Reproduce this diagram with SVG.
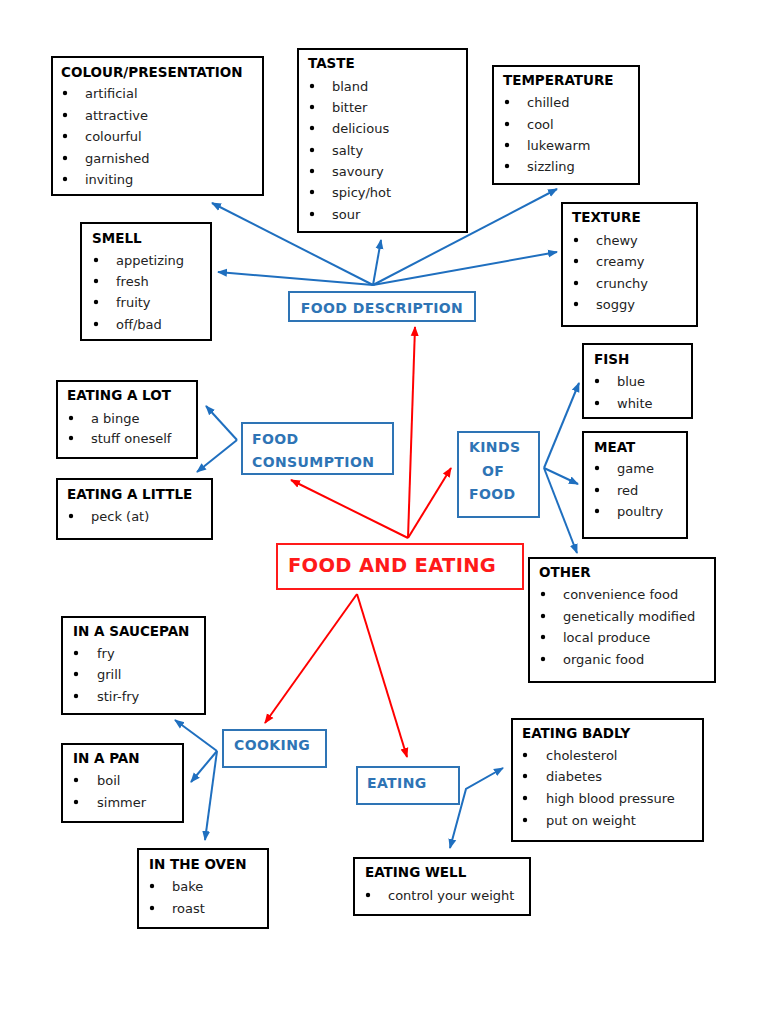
<svg xmlns="http://www.w3.org/2000/svg" width="768" height="1024" viewBox="0 0 768 1024">
<style>
.box{fill:#fff;stroke:#000;stroke-width:2}
.bbox{fill:#fff;stroke:#2e74b5;stroke-width:2}
.rbox{fill:#fff;stroke:#ff1a1a;stroke-width:2}
.t{font-family:"DejaVu Sans","Noto Sans",sans-serif;font-size:13.5px;font-weight:bold;fill:#000}
.i{font-family:"DejaVu Sans","Noto Sans",sans-serif;font-size:13px;fill:#222}
.bl{font-family:"DejaVu Sans","Noto Sans",sans-serif;font-size:14px;font-weight:bold;fill:#2e74b5;letter-spacing:0.4px}
.rl{font-family:"DejaVu Sans","Noto Sans",sans-serif;font-size:19.5px;font-weight:bold;fill:#ff1a1a;letter-spacing:0.3px}
.b{fill:#000}
.ba{fill:none;stroke:#1f6fbf;stroke-width:2}
.ra{fill:none;stroke:#ff0000;stroke-width:2}
</style>
<defs>
<marker id="ab" markerUnits="userSpaceOnUse" markerWidth="10" markerHeight="10" viewBox="0 0 10 10" refX="9" refY="5" orient="auto-start-reverse"><path d="M0,1 L10,5 L0,9 Z" fill="#1f6fbf"/></marker>
<marker id="ar" markerUnits="userSpaceOnUse" markerWidth="10" markerHeight="10" viewBox="0 0 10 10" refX="9" refY="5" orient="auto"><path d="M0,1 L10,5 L0,9 Z" fill="#ff0000"/></marker>
</defs>
<rect width="768" height="1024" fill="#fff"/>

<g id="connectors">
<path class="ba" marker-end="url(#ab)" d="M373,285 L212,203"/>
<path class="ba" marker-end="url(#ab)" d="M373,285 L218,272"/>
<path class="ba" marker-end="url(#ab)" d="M373,285 L381,240"/>
<path class="ba" marker-end="url(#ab)" d="M373,285 L557,189"/>
<path class="ba" marker-end="url(#ab)" d="M373,285 L557,252"/>
<path class="ra" marker-end="url(#ar)" d="M408,538 L415,327"/>
<path class="ra" marker-end="url(#ar)" d="M408,538 L291,480"/>
<path class="ra" marker-end="url(#ar)" d="M408,538 L451,468"/>
<path class="ba" marker-end="url(#ab)" d="M237,440 L206,406"/>
<path class="ba" marker-end="url(#ab)" d="M237,440 L197,472"/>
<path class="ba" marker-end="url(#ab)" d="M544,468 L579,383"/>
<path class="ba" marker-end="url(#ab)" d="M544,468 L578,484"/>
<path class="ba" marker-end="url(#ab)" d="M544,468 L577,553"/>
<path class="ra" marker-end="url(#ar)" d="M357,594 L265,723"/>
<path class="ra" marker-end="url(#ar)" d="M357,594 L407,757"/>
<path class="ba" marker-end="url(#ab)" d="M217,751 L175,720"/>
<path class="ba" marker-end="url(#ab)" d="M217,751 L191,782"/>
<path class="ba" marker-end="url(#ab)" d="M217,751 L205,840"/>
<path class="ba" marker-start="url(#ab)" marker-end="url(#ab)" d="M503,768 L466,789 L450,848"/>
</g>

<g id="colour">
<rect class="box" x="52" y="57" width="211" height="138"/>
<text class="t" x="61" y="77">COLOUR/PRESENTATION</text>
<circle class="b" cx="65" cy="93" r="2.2"/><text class="i" x="85" y="98">artificial</text>
<circle class="b" cx="65" cy="115" r="2.2"/><text class="i" x="85" y="120">attractive</text>
<circle class="b" cx="65" cy="136" r="2.2"/><text class="i" x="85" y="141">colourful</text>
<circle class="b" cx="65" cy="158" r="2.2"/><text class="i" x="85" y="163">garnished</text>
<circle class="b" cx="65" cy="179" r="2.2"/><text class="i" x="85" y="184">inviting</text>
</g>

<g id="taste">
<rect class="box" x="298" y="49" width="169" height="183"/>
<text class="t" x="308" y="68">TASTE</text>
<circle class="b" cx="312" cy="86" r="2.2"/><text class="i" x="332" y="91">bland</text>
<circle class="b" cx="312" cy="107" r="2.2"/><text class="i" x="332" y="112">bitter</text>
<circle class="b" cx="312" cy="128" r="2.2"/><text class="i" x="332" y="133">delicious</text>
<circle class="b" cx="312" cy="150" r="2.2"/><text class="i" x="332" y="155">salty</text>
<circle class="b" cx="312" cy="171" r="2.2"/><text class="i" x="332" y="176">savoury</text>
<circle class="b" cx="312" cy="192" r="2.2"/><text class="i" x="332" y="197">spicy/hot</text>
<circle class="b" cx="312" cy="214" r="2.2"/><text class="i" x="332" y="219">sour</text>
</g>

<g id="temperature">
<rect class="box" x="493" y="66" width="146" height="118"/>
<text class="t" x="503" y="85">TEMPERATURE</text>
<circle class="b" cx="507" cy="102" r="2.2"/><text class="i" x="527" y="107">chilled</text>
<circle class="b" cx="507" cy="124" r="2.2"/><text class="i" x="527" y="129">cool</text>
<circle class="b" cx="507" cy="145" r="2.2"/><text class="i" x="527" y="150">lukewarm</text>
<circle class="b" cx="507" cy="166" r="2.2"/><text class="i" x="527" y="171">sizzling</text>
</g>

<g id="smell">
<rect class="box" x="81" y="223" width="130" height="117"/>
<text class="t" x="92" y="243">SMELL</text>
<circle class="b" cx="96" cy="260" r="2.2"/><text class="i" x="116" y="265">appetizing</text>
<circle class="b" cx="96" cy="281" r="2.2"/><text class="i" x="116" y="286">fresh</text>
<circle class="b" cx="96" cy="302" r="2.2"/><text class="i" x="116" y="307">fruity</text>
<circle class="b" cx="96" cy="324" r="2.2"/><text class="i" x="116" y="329">off/bad</text>
</g>

<g id="texture">
<rect class="box" x="562" y="203" width="135" height="123"/>
<text class="t" x="572" y="222">TEXTURE</text>
<circle class="b" cx="576" cy="240" r="2.2"/><text class="i" x="596" y="245">chewy</text>
<circle class="b" cx="576" cy="261" r="2.2"/><text class="i" x="596" y="266">creamy</text>
<circle class="b" cx="576" cy="283" r="2.2"/><text class="i" x="596" y="288">crunchy</text>
<circle class="b" cx="576" cy="304" r="2.2"/><text class="i" x="596" y="309">soggy</text>
</g>

<g id="food-description">
<rect class="bbox" x="289" y="292" width="186" height="29"/>
<text class="bl" x="382" y="313" text-anchor="middle">FOOD DESCRIPTION</text>
</g>

<g id="fish">
<rect class="box" x="583" y="344" width="109" height="74"/>
<text class="t" x="594" y="364">FISH</text>
<circle class="b" cx="597" cy="381" r="2.2"/><text class="i" x="617" y="386">blue</text>
<circle class="b" cx="597" cy="403" r="2.2"/><text class="i" x="617" y="408">white</text>
</g>

<g id="eating-a-lot">
<rect class="box" x="57" y="381" width="140" height="77"/>
<text class="t" x="67" y="400">EATING A LOT</text>
<circle class="b" cx="71" cy="418" r="2.2"/><text class="i" x="91" y="423">a binge</text>
<circle class="b" cx="71" cy="438" r="2.2"/><text class="i" x="91" y="443">stuff oneself</text>
</g>

<g id="food-consumption">
<rect class="bbox" x="242" y="423" width="151" height="51"/>
<text class="bl" x="252" y="444">FOOD</text>
<text class="bl" x="252" y="467">CONSUMPTION</text>
</g>

<g id="kinds-of-food">
<rect class="bbox" x="458" y="432" width="81" height="85"/>
<text class="bl" x="469" y="452">KINDS</text>
<text class="bl" x="482" y="476">OF</text>
<text class="bl" x="469" y="499">FOOD</text>
</g>

<g id="meat">
<rect class="box" x="583" y="432" width="104" height="106"/>
<text class="t" x="594" y="452">MEAT</text>
<circle class="b" cx="597" cy="468" r="2.2"/><text class="i" x="617" y="473">game</text>
<circle class="b" cx="597" cy="490" r="2.2"/><text class="i" x="617" y="495">red</text>
<circle class="b" cx="597" cy="511" r="2.2"/><text class="i" x="617" y="516">poultry</text>
</g>

<g id="eating-a-little">
<rect class="box" x="57" y="479" width="155" height="60"/>
<text class="t" x="67" y="499">EATING A LITTLE</text>
<circle class="b" cx="71" cy="516" r="2.2"/><text class="i" x="91" y="521">peck (at)</text>
</g>

<g id="food-and-eating">
<rect class="rbox" x="277" y="544" width="246" height="45"/>
<text class="rl" x="288" y="572">FOOD AND EATING</text>
</g>

<g id="other">
<rect class="box" x="529" y="558" width="186" height="124"/>
<text class="t" x="539" y="577">OTHER</text>
<circle class="b" cx="543" cy="594" r="2.2"/><text class="i" x="563" y="599">convenience food</text>
<circle class="b" cx="543" cy="616" r="2.2"/><text class="i" x="563" y="621">genetically modified</text>
<circle class="b" cx="543" cy="637" r="2.2"/><text class="i" x="563" y="642">local produce</text>
<circle class="b" cx="543" cy="659" r="2.2"/><text class="i" x="563" y="664">organic food</text>
</g>

<g id="in-a-saucepan">
<rect class="box" x="62" y="617" width="143" height="97"/>
<text class="t" x="73" y="636">IN A SAUCEPAN</text>
<circle class="b" cx="76" cy="653" r="2.2"/><text class="i" x="97" y="658">fry</text>
<circle class="b" cx="76" cy="674" r="2.2"/><text class="i" x="97" y="679">grill</text>
<circle class="b" cx="76" cy="696" r="2.2"/><text class="i" x="97" y="701">stir-fry</text>
</g>

<g id="cooking">
<rect class="bbox" x="223" y="730" width="103" height="37"/>
<text class="bl" x="234" y="750">COOKING</text>
</g>

<g id="in-a-pan">
<rect class="box" x="62" y="744" width="121" height="78"/>
<text class="t" x="73" y="763">IN A PAN</text>
<circle class="b" cx="76" cy="780" r="2.2"/><text class="i" x="97" y="785">boil</text>
<circle class="b" cx="76" cy="802" r="2.2"/><text class="i" x="97" y="807">simmer</text>
</g>

<g id="eating">
<rect class="bbox" x="357" y="767" width="102" height="37"/>
<text class="bl" x="367" y="788">EATING</text>
</g>

<g id="eating-badly">
<rect class="box" x="512" y="719" width="191" height="122"/>
<text class="t" x="522" y="738">EATING BADLY</text>
<circle class="b" cx="525" cy="755" r="2.2"/><text class="i" x="546" y="760">cholesterol</text>
<circle class="b" cx="525" cy="776" r="2.2"/><text class="i" x="546" y="781">diabetes</text>
<circle class="b" cx="525" cy="798" r="2.2"/><text class="i" x="546" y="803">high blood pressure</text>
<circle class="b" cx="525" cy="820" r="2.2"/><text class="i" x="546" y="825">put on weight</text>
</g>

<g id="in-the-oven">
<rect class="box" x="138" y="849" width="130" height="79"/>
<text class="t" x="149" y="869">IN THE OVEN</text>
<circle class="b" cx="152" cy="886" r="2.2"/><text class="i" x="172" y="891">bake</text>
<circle class="b" cx="152" cy="908" r="2.2"/><text class="i" x="172" y="913">roast</text>
</g>

<g id="eating-well">
<rect class="box" x="354" y="858" width="176" height="57"/>
<text class="t" x="365" y="877">EATING WELL</text>
<circle class="b" cx="368" cy="895" r="2.2"/><text class="i" x="388" y="900">control your weight</text>
</g>
</svg>
